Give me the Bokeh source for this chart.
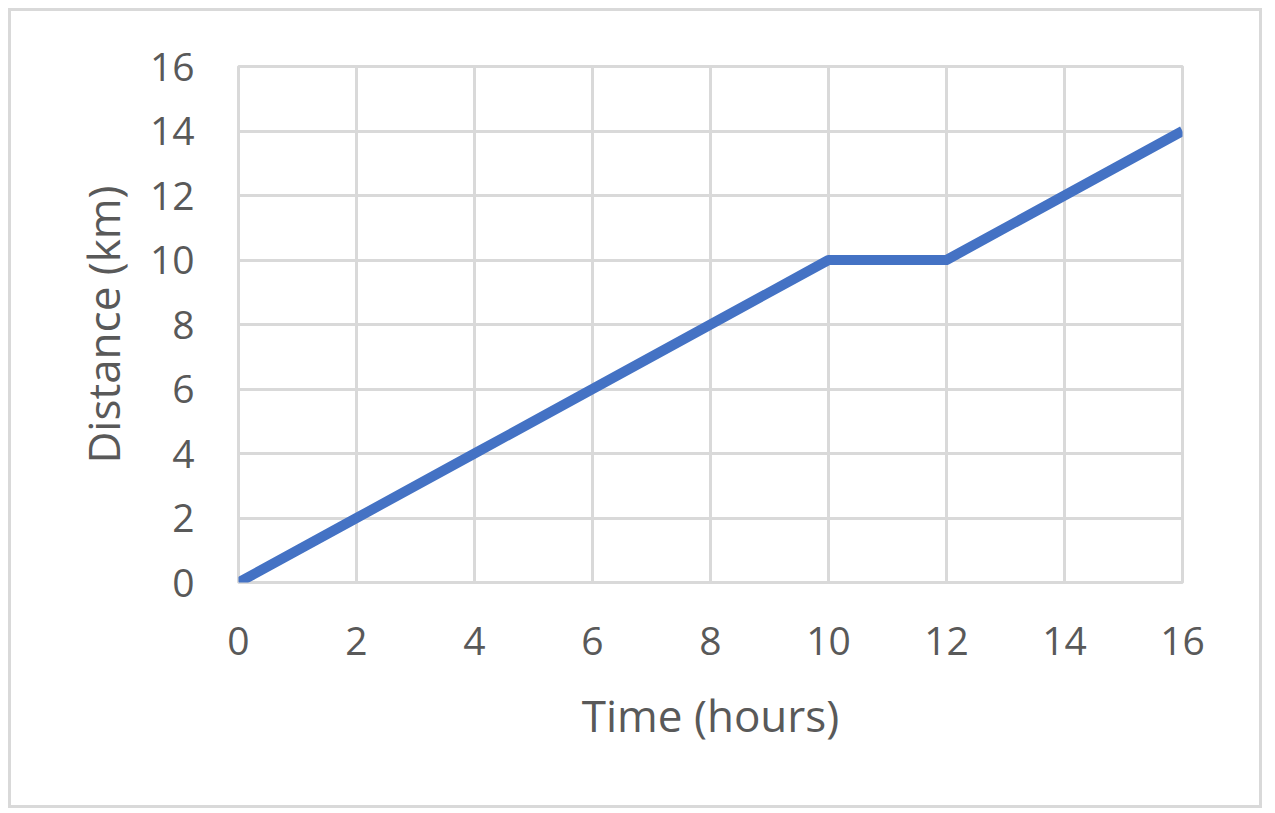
from bokeh.plotting import figure
from bokeh.models import Range1d, FixedTicker
from bokeh.embed import file_html
from bokeh.resources import INLINE

time_hours = [0, 2, 4, 6, 8, 10, 12, 14, 16]
distance_km = [0, 2, 4, 6, 8, 10, 10, 12, 14]
ticks = [0, 2, 4, 6, 8, 10, 12, 14, 16]

p = figure(width=1254, height=800, output_backend="svg", toolbar_location=None,
           x_range=Range1d(0, 16), y_range=Range1d(0, 16),
           min_border_left=227, min_border_right=83, min_border_top=55, min_border_bottom=229)
p.styles = {"border": "3px solid #d9d9d9", "margin-left": "8px", "margin-top": "8px"}
p.outline_line_color = "#d9d9d9"
p.outline_line_width = 3
p.background_fill_color = "white"
p.border_fill_color = "white"

p.line(time_hours, distance_km, line_color="#4472C4", line_width=10, line_cap="butt", line_join="round")

for ax in (p.xaxis[0], p.yaxis[0]):
    ax.ticker = FixedTicker(ticks=ticks)
    ax.axis_line_color = None
    ax.major_tick_line_color = None
    ax.minor_tick_line_color = None
    ax.major_label_text_font = "Open Sans"
    ax.major_label_text_font_size = "39px"
    ax.major_label_text_color = "#595959"
    ax.axis_label_text_font = "Open Sans"
    ax.axis_label_text_font_size = "44px"
    ax.axis_label_text_color = "#595959"
    ax.axis_label_text_font_style = "normal"

p.xaxis.axis_label = "Time (hours)"
p.yaxis.axis_label = "Distance (km)"
p.xaxis.major_label_standoff = 38
p.yaxis.major_label_standoff = 38
p.xaxis.axis_label_standoff = 27
p.yaxis.axis_label_standoff = 14

for g in (p.xgrid[0], p.ygrid[0]):
    g.ticker = FixedTicker(ticks=ticks)
    g.grid_line_color = "#d9d9d9"
    g.grid_line_width = 3

open("out.html", "w").write(file_html(p, INLINE))
